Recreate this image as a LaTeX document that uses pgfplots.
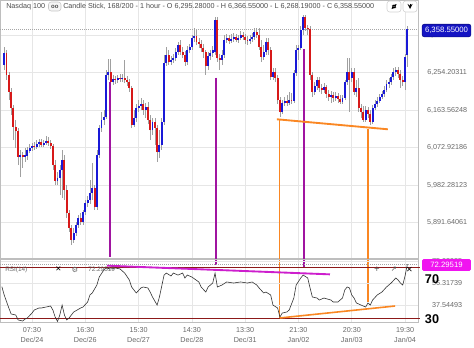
\documentclass[border=0pt]{standalone}
\usepackage{pgfplots}
\pgfplotsset{compat=1.18}
\usepackage{pgfplotstable}
\usepackage{fontspec}
\setmainfont{Liberation Sans}
\newfontfamily\symfont{DejaVu Sans}
\definecolor{upc}{RGB}{25,25,215}
\definecolor{dnc}{RGB}{215,25,25}
\definecolor{wickc}{RGB}{160,160,160}
\definecolor{gridc}{RGB}{230,230,230}
\definecolor{framec}{RGB}{190,190,190}
\definecolor{purp}{RGB}{160,20,160}
\definecolor{magl}{RGB}{205,30,205}
\definecolor{orl}{RGB}{250,135,35}
\definecolor{drl}{RGB}{140,25,25}
\definecolor{lbl}{RGB}{105,105,105}
\definecolor{bluebox}{RGB}{20,20,195}
\definecolor{magbox}{RGB}{240,20,240}
\newcommand\tf{\fontsize{5.4}{6.4}\selectfont}

\pgfplotstableread{
i o h l c
-12 6272.3 6315.8 6260.2 6301.3
-11 6301.3 6308.6 6236.1 6248.2
-10 6248.2 6255.4 6187.7 6207.1
-9 6207.1 6216.7 6151.5 6168.4
-8 6168.4 6175.6 6091.1 6122.5
-7 6122.5 6139.4 6071.7 6112.8
-6 6112.8 6120.1 6030.6 6050.0
-5 6050.0 6066.9 6001.6 6054.8
-4 6054.8 6062.0 6023.4 6050.0
-3 6050.0 6071.7 6037.9 6054.8
-2 6052.4 6074.1 6042.7 6066.9
-1 6064.5 6081.4 6059.6 6071.7
0 6071.7 6083.8 6064.5 6076.6
1 6076.6 6086.2 6066.9 6074.1
2 6074.1 6091.1 6069.3 6081.4
3 6081.4 6093.5 6074.1 6086.2
4 6086.2 6093.5 6074.1 6079.0
5 6079.0 6091.1 6074.1 6083.8
6 6083.8 6100.7 6079.0 6088.6
7 6088.6 6098.3 6076.6 6083.8
8 6083.8 6091.1 6069.3 6076.6
9 6076.6 6081.4 6018.5 6030.6
10 6030.6 6042.7 5982.3 5992.0
11 5992.0 6013.7 5982.3 5999.2
12 5999.2 6030.6 5958.1 6018.5
13 6018.5 6066.9 5950.9 6042.7
14 6042.7 6054.8 5946.0 5970.2
15 5970.2 5982.3 5902.5 5914.6
16 5914.6 5921.9 5868.7 5878.4
17 5878.4 5885.6 5837.3 5849.4
18 5849.4 5878.4 5842.1 5866.3
19 5866.3 5892.9 5859.0 5885.6
20 5885.6 5909.8 5878.4 5902.5
21 5902.5 5914.6 5885.6 5892.9
22 5892.9 5921.9 5885.6 5917.0
23 5917.0 5946.0 5909.8 5938.8
24 5938.8 5955.7 5929.1 5946.0
25 5946.0 5994.4 5936.4 5963.0
26 5963.0 6035.5 5946.0 5975.0
27 5975.0 5982.3 5921.9 5929.1
28 5929.1 6066.9 5921.9 6054.8
29 6054.8 6127.3 6047.5 6120.1
30 6120.1 6158.7 6110.4 6139.4
31 6139.4 6163.6 6127.3 6146.6
32 6146.6 6260.2 6141.8 6248.2
33 6248.2 6286.8 6236.1 6255.4
34 6255.4 6286.8 6226.4 6231.2
35 6231.2 6248.2 6224.0 6238.5
36 6238.5 6245.7 6226.4 6236.1
37 6236.1 6248.2 6228.8 6240.9
38 6240.9 6250.6 6231.2 6238.5
39 6238.5 6250.6 6231.2 6240.9
40 6240.9 6284.4 6228.8 6236.1
41 6236.1 6245.7 6221.6 6231.2
42 6231.2 6238.5 6207.1 6216.7
43 6216.7 6221.6 6120.1 6127.3
44 6127.3 6163.6 6122.5 6144.2
45 6144.2 6178.1 6134.6 6168.4
46 6168.4 6187.7 6158.7 6173.2
47 6173.2 6192.6 6163.6 6178.1
48 6178.1 6187.7 6151.5 6163.6
49 6163.6 6180.5 6144.2 6170.8
50 6170.8 6182.9 6129.7 6139.4
51 6139.4 6151.5 6091.1 6115.2
52 6115.2 6144.2 6103.1 6134.6
53 6134.6 6144.2 6079.0 6120.1
54 6120.1 6127.3 6037.9 6062.0
55 6062.0 6115.2 6047.5 6079.0
56 6079.0 6144.2 6066.9 6134.6
57 6134.6 6296.5 6127.3 6277.2
58 6277.2 6315.8 6269.9 6296.5
59 6296.5 6308.6 6272.3 6279.6
60 6279.6 6294.1 6272.3 6284.4
61 6284.4 6298.9 6277.2 6289.2
62 6289.2 6313.4 6282.0 6303.8
63 6303.8 6327.9 6296.5 6320.7
64 6320.7 6332.8 6296.5 6303.8
65 6303.8 6315.8 6289.2 6296.5
66 6296.5 6306.2 6269.9 6279.6
67 6279.6 6318.3 6272.3 6308.6
68 6308.6 6323.1 6301.3 6315.8
69 6315.8 6344.8 6308.6 6337.6
70 6337.6 6361.8 6327.9 6342.4
71 6342.4 6356.9 6320.7 6327.9
72 6327.9 6337.6 6313.4 6323.1
73 6323.1 6332.8 6303.8 6313.4
74 6313.4 6323.1 6289.2 6303.8
75 6303.8 6308.6 6248.2 6269.9
76 6269.9 6303.8 6260.2 6294.1
77 6294.1 6308.6 6284.4 6301.3
78 6301.3 6318.3 6291.7 6308.6
79 6303.8 6388.3 6296.5 6381.1
80 6381.1 6388.3 6279.6 6289.2
81 6289.2 6298.9 6260.2 6284.4
82 6284.4 6308.6 6272.3 6296.5
83 6296.5 6344.8 6289.2 6332.8
84 6332.8 6347.3 6325.5 6337.6
85 6337.6 6344.8 6323.1 6330.3
86 6330.3 6347.3 6325.5 6335.2
87 6335.2 6349.7 6327.9 6340.0
88 6340.0 6347.3 6327.9 6332.8
89 6332.8 6344.8 6325.5 6337.6
90 6337.6 6354.5 6332.8 6344.8
91 6344.8 6352.1 6332.8 6340.0
92 6340.0 6347.3 6323.1 6332.8
93 6332.8 6342.4 6320.7 6330.3
94 6330.3 6344.8 6323.1 6335.2
95 6335.2 6349.7 6327.9 6340.0
96 6340.0 6361.8 6332.8 6352.1
97 6352.1 6361.8 6337.6 6344.8
98 6344.8 6361.8 6308.6 6315.8
99 6315.8 6332.8 6279.6 6291.7
100 6291.7 6320.7 6284.4 6303.8
101 6303.8 6337.6 6296.5 6327.9
102 6327.9 6337.6 6296.5 6308.6
103 6308.6 6315.8 6236.1 6243.3
104 6243.3 6265.1 6236.1 6255.4
105 6255.4 6265.1 6231.2 6240.9
106 6240.9 6248.2 6178.1 6187.7
107 6187.7 6195.0 6146.6 6158.7
108 6158.7 6187.7 6153.9 6180.5
109 6180.5 6195.0 6173.2 6185.3
110 6185.3 6199.8 6173.2 6180.5
111 6180.5 6207.1 6175.6 6187.7
112 6187.7 6204.7 6178.1 6185.3
113 6185.3 6260.2 6180.5 6253.0
114 6253.0 6320.7 6245.7 6308.6
115 6308.6 6320.7 6284.4 6313.4
116 6313.4 6366.6 6308.6 6356.9
117 6356.9 6393.2 6344.8 6388.3
118 6388.3 6393.2 6354.5 6361.8
119 6361.8 6369.0 6344.8 6359.3
120 6359.3 6366.6 6236.1 6248.2
121 6248.2 6255.4 6195.0 6207.1
122 6207.1 6231.2 6199.8 6221.6
123 6221.6 6243.3 6211.9 6236.1
124 6236.1 6243.3 6207.1 6216.7
125 6216.7 6226.4 6202.2 6211.9
126 6211.9 6228.8 6204.7 6219.2
127 6219.2 6224.0 6192.6 6202.2
128 6202.2 6211.9 6185.3 6195.0
129 6195.0 6209.5 6180.5 6199.8
130 6199.8 6207.1 6182.9 6192.6
131 6192.6 6207.1 6185.3 6197.4
132 6197.4 6204.7 6180.5 6190.1
133 6190.1 6199.8 6178.1 6182.9
134 6182.9 6199.8 6178.1 6192.6
135 6192.6 6236.1 6187.7 6231.2
136 6231.2 6289.2 6224.0 6255.4
137 6255.4 6289.2 6158.7 6236.1
138 6240.9 6265.1 6231.2 6255.4
139 6255.4 6265.1 6199.8 6207.1
140 6207.1 6236.1 6195.0 6216.7
141 6216.7 6240.9 6158.7 6168.4
142 6168.4 6178.1 6144.2 6158.7
143 6158.7 6173.2 6134.6 6139.4
144 6139.4 6173.2 6134.6 6163.6
145 6163.6 6170.8 6144.2 6153.9
146 6153.9 6163.6 6127.3 6134.6
147 6134.6 6175.6 6129.7 6168.4
148 6168.4 6187.7 6163.6 6178.1
149 6178.1 6195.0 6170.8 6185.3
150 6185.3 6202.2 6180.5 6195.0
151 6195.0 6209.5 6190.1 6202.2
152 6202.2 6221.6 6195.0 6211.9
153 6211.9 6236.1 6207.1 6226.4
154 6226.4 6240.9 6216.7 6231.2
155 6231.2 6250.6 6224.0 6243.3
156 6243.3 6265.1 6236.1 6255.4
157 6255.4 6267.5 6245.7 6260.2
158 6260.2 6267.5 6240.9 6250.6
159 6250.6 6260.2 6216.7 6236.1
160 6236.1 6245.7 6221.6 6231.2
161 6231.2 6298.9 6211.9 6291.7
162 6295.28 6366.55 6268.19 6358.55
}\candles

\pgfplotstableread{
i rsi
-13 53.2
-12 46.1
-10 35.0
-9 29.9
-7 29.0
-6 24.8
-4 23.9
-3 25.6
-2 26.5
0 30.7
1 33.3
3 35.0
4 35.0
6 35.8
8 36.7
9 33.3
10 27.3
11 23.5
12 29.0
13 37.5
14 29.0
15 24.8
16 26.5
18 31.6
21 35.0
22 35.8
24 40.1
25 46.1
26 47.8
28 54.6
29 61.4
31 67.4
32 69.1
34 68.3
36 69.1
38 68.3
40 64.8
42 58.9
43 52.9
45 47.8
47 52.1
48 52.9
50 52.1
51 48.6
52 44.4
54 37.5
55 44.4
57 63.1
58 64.8
60 62.3
61 64.8
63 63.1
65 64.8
66 60.6
67 63.1
69 61.4
72 57.2
73 52.9
75 48.6
76 52.9
78 56.3
79 64.8
80 52.9
82 54.6
84 57.2
87 56.3
90 57.2
93 56.3
95 57.2
97 54.6
98 52.1
100 47.8
101 48.6
103 46.1
104 37.5
106 35.0
107 27.3
108 30.7
110 31.6
111 33.3
113 43.5
114 54.6
116 60.6
117 63.1
119 60.6
120 52.1
121 44.4
123 43.5
124 41.8
126 43.5
129 41.8
130 40.1
132 40.1
134 43.5
135 50.4
136 52.9
137 52.1
138 46.1
139 43.5
140 39.3
142 37.5
144 35.8
145 39.3
146 37.5
147 41.8
149 46.1
151 48.6
153 52.9
155 56.3
157 60.6
158 58.9
159 56.3
160 54.6
161 62.3
162 72.3
}\rsi

\begin{document}
\begin{tikzpicture}
\useasboundingbox (0pt,0pt) rectangle (355.5pt,-260.25pt);
\pgfplotsset{
  chartbase/.style={
    scale only axis, width=313.5pt,
    xmin=-13.81, xmax=166.59,
    xtick={0,23,46,69,92,115,138,161},
    grid=major, major grid style={draw=gridc, line width=0.4pt},
    major tick length=0pt,
    axis line style={draw=framec, line width=0.5pt},
    yticklabel pos=right,
    yticklabel style={font=\tf, text=lbl, anchor=center, xshift=21.9pt},
    clip=false,
  }
}
% ---------- price panel ----------
\begin{axis}[chartbase, at={(0pt,-193.5pt)}, anchor=south west, height=193.5pt,
  ymin=5805.8, ymax=6429.43,
  ytick={5891.64061,5982.28123,6072.92186,6163.56248,6254.20311,6344.84374},
  yticklabels={{5,891.64061},{5,982.28123},{6,072.92186},{6,163.56248},{6,254.20311},{6,344.84374}},
  xticklabels={}]
\draw[densely dotted, draw=gray!70, line width=0.5pt] (axis cs:-13.81,6358.55) -- (axis cs:166.59,6358.55);
% wicks
\addplot[draw=none, mark=none, error bars/.cd, y dir=plus, y explicit, error mark=none,
  error bar style={draw=wickc, line width=0.45pt, solid}]
  table[x=i, y=l, y error plus expr=\thisrow{h}-\thisrow{l}] {\candles};
% up bodies
\addplot[draw=none, mark=none, restrict expr to domain={\thisrow{c}-\thisrow{o}}{0:5000},
  error bars/.cd, y dir=plus, y explicit, error mark=none,
  error bar style={draw=upc, line width=1.45pt, solid}]
  table[x=i, y=o, y error plus expr=\thisrow{c}-\thisrow{o}] {\candles};
% down bodies
\addplot[draw=none, mark=none, restrict expr to domain={\thisrow{o}-\thisrow{c}}{0.001:5000},
  error bars/.cd, y dir=plus, y explicit, error mark=none,
  error bar style={draw=dnc, line width=1.45pt, solid}]
  table[x=i, y=c, y error plus expr=\thisrow{o}-\thisrow{c}] {\candles};
% annotations
\draw[purp, line width=1.4pt] (axis cs:33.7,6231.2) -- (axis cs:33.7,5809.0);
\draw[purp, line width=1.4pt] (axis cs:79.3,6241.6) -- (axis cs:79.3,5788.9);
\draw[purp, line width=1.4pt] (axis cs:117.4,6310.0) -- (axis cs:117.4,5780.9);
\draw[orl, line width=1.4pt] (axis cs:105.7,6141.1) -- (axis cs:153.6,6116.9);
\draw[orl, line width=1.4pt] (axis cs:106.8,6141.1) -- (axis cs:106.8,5661.5);
\draw[orl, line width=1.4pt] (axis cs:144.9,6118.0) -- (axis cs:144.9,5700.2);
\end{axis}
% ---------- RSI panel ----------
\begin{axis}[chartbase, at={(0pt,-241.5pt)}, anchor=south west, height=47.25pt,
  ymin=23.05, ymax=76.79,
  ytick={37.54493,56.31739,75.08985},
  yticklabels={37.54493,56.31739,75.08985},
  xticklabels={{07:30\\Dec/24},{16:30\\Dec/26},{15:30\\Dec/27},{14:30\\Dec/28},{13:30\\Dec/31},{21:30\\Jan/02},{20:30\\Jan/03},{19:30\\Jan/04}},
  xticklabel style={font=\fontsize{5.4}{8}\selectfont, text=lbl, align=center, yshift=-0.4pt}]
\draw[densely dotted, draw=gray!70, line width=0.5pt] (axis cs:-13.81,72.3) -- (axis cs:166.59,72.3);
\draw[drl, line width=0.9pt] (axis cs:-13.81,69.4) -- (axis cs:167.3,69.4);
\draw[drl, line width=0.9pt] (axis cs:-13.81,26.2) -- (axis cs:167.3,26.2);
\addplot[draw=black!80, line width=0.45pt, mark=none] table[x=i, y=rsi] {\rsi};
\draw[magl, line width=1.4pt] (axis cs:32.4,71.1) -- (axis cs:128.6,63.7);
\draw[orl, line width=1.2pt] (axis cs:107.0,26.5) -- (axis cs:156.7,36.7);
\end{axis}
% ---------- overlay text (pixel frame) ----------
\begin{scope}[x=0.75pt, y=-0.75pt]
\node[anchor=west, inner sep=0, font=\tf, text=black!70] at (6,6.5) {Nasdaq 100};
\draw[rounded corners=2pt, draw=gray!45, fill=gray!8, line width=0.4pt] (48.5,2) rectangle (61,11);
\node[inner sep=0, font=\fontsize{4.5}{5}\selectfont\bfseries, text=black!70] at (54.75,6.5) {oo};
\node[anchor=west, inner sep=0, font=\tf, text=black!70] at (63,6.5) {Candle Stick, 168/200 - 1 hour - O 6,295.28000 - H 6,366.55000 - L 6,268.19000 - C 6,358.55000};
\draw[rounded corners=2pt, draw=gray!35, fill=white, line width=0.4pt] (387,1) rectangle (401,12);
\draw[rounded corners=2pt, draw=gray!35, fill=white, line width=0.4pt] (403,1) rectangle (417,12);
\draw[<->, >=stealth, line width=0.5pt] (391.5,9) -- (396.5,4);
\draw[->, >=stealth, line width=0.7pt] (410,3.5) -- (410,9);
\node[anchor=west, inner sep=0, font=\fontsize{4.8}{5.5}\selectfont, text=black!60] at (5,269.5) {RSI(14)};
\node[inner sep=0, font=\symfont\fontsize{5.5}{6}\selectfont] at (58.5,269.5) {✕};
\node[inner sep=0, font=\symfont\fontsize{5.5}{6}\selectfont, text=black!60] at (75,269.5) {⚙};
\node[anchor=west, inner sep=0, font=\fontsize{4.8}{5.5}\selectfont, text=black!60] at (88,269.5) {72.29519};
\node[inner sep=0, font=\symfont\fontsize{5.5}{6}\selectfont, text=black!70] at (377,269.5) {+};
\node[inner sep=0, font=\symfont\fontsize{5.5}{6}\selectfont, text=black!70] at (394,269.5) {↗};
\node[inner sep=0, font=\symfont\fontsize{6}{6}\selectfont\bfseries] at (409.5,269.5) {✕};
\node[fill=bluebox, draw=bluebox!70!black, text=white, rounded corners=1.5pt, inner sep=0,
  minimum width=36.5pt, minimum height=9.4pt, font=\fontsize{5.8}{6}\selectfont] at (446.5,30.5) {6,358.55000};
\node[fill=magbox, text=white, rounded corners=1pt, inner sep=0,
  minimum width=36.5pt, minimum height=8.8pt, font=\fontsize{5.8}{6}\selectfont] at (446.5,265) {72.29519};
\node[inner sep=0, font=\fontsize{9.5}{10}\selectfont\bfseries] at (432,279.5) {70};
\node[inner sep=0, font=\fontsize{9.5}{10}\selectfont\bfseries] at (432,319.5) {30};
\end{scope}
\end{tikzpicture}
\end{document}
